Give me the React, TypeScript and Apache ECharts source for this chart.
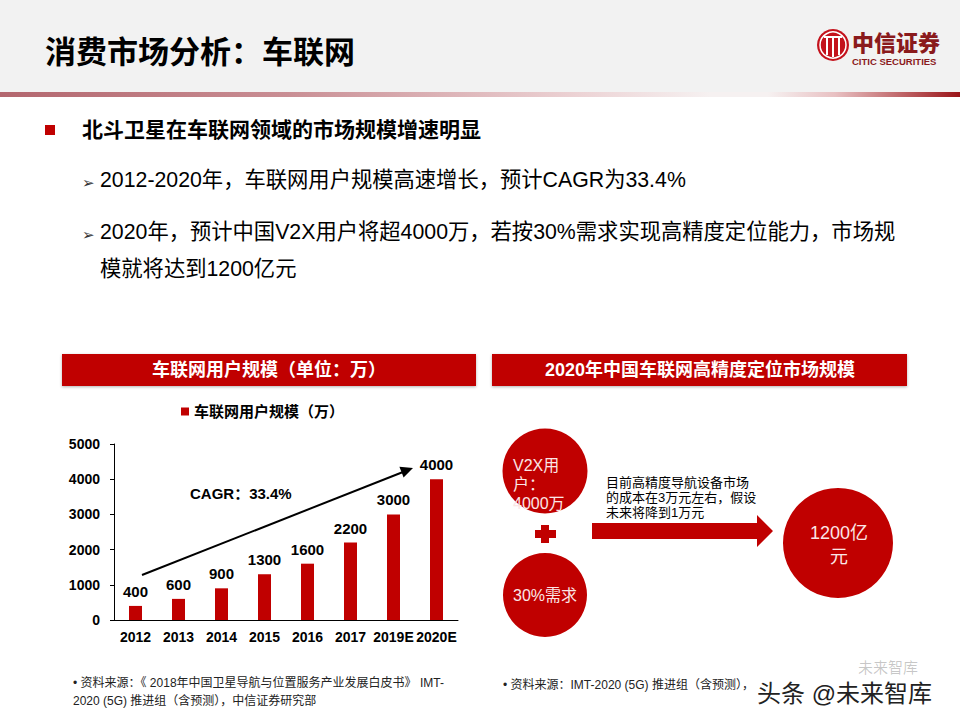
import React, { useEffect, useRef } from "react";
import * as echarts from "echarts";

const categories = ["2012", "2013", "2014", "2015", "2016", "2017", "2019E", "2020E"];
const userScale = [400, 600, 900, 1300, 1600, 2200, 3000, 4000];
const seriesName = "车联网用户规模（万）";
const yMin = 0;
const yMax = 5000;
const yInterval = 1000;

const title = "消费市场分析：车联网";
const bulletMain = "北斗卫星在车联网领域的市场规模增速明显";
const bulletSub1 = "2012-2020年，车联网用户规模高速增长，预计CAGR为33.4%";
const bulletSub2a = "2020年，预计中国V2X用户将超4000万，若按30%需求实现高精度定位能力，市场规";
const bulletSub2b = "模就将达到1200亿元";
const leftPanelTitle = "车联网用户规模（单位：万）";
const rightPanelTitle = "2020年中国车联网高精度定位市场规模";
const cagrText = "CAGR：33.4%";
const circle1Text = "V2X用\n户：\n4000万";
const circle2Text = "30%需求";
const circle3Text = "1200亿\n元";
const arrowNote = "目前高精度导航设备市场\n的成本在3万元左右，假设\n未来将降到1万元";
const sourceLeft1 = "• 资料来源：《 2018年中国卫星导航与位置服务产业发展白皮书》 IMT-";
const sourceLeft2 = "2020 (5G) 推进组（含预测），中信证券研究部";
const sourceRight = "• 资料来源：IMT-2020 (5G) 推进组（含预测），";

const RED = "#c00000";
const F = "'Liberation Sans', Arial, 'Noto Sans CJK SC', sans-serif";

function txt(text: string, x: number, y: number, size: number, opts: any = {}) {
  return {
    type: "text",
    z: opts.z ?? 10,
    style: {
      text,
      x,
      y,
      fontSize: size,
      fontFamily: F,
      fontWeight: opts.weight ?? "normal",
      fill: opts.fill ?? "#000",
      textAlign: opts.align ?? "left",
      align: opts.align ?? "left",
      textVerticalAlign: "middle",
      verticalAlign: "middle",
      lineHeight: opts.lineHeight,
      stroke: opts.stroke,
      lineWidth: opts.strokeWidth,
    },
  };
}

export default function App() {
  const ref = useRef<HTMLDivElement>(null);
  useEffect(() => {
    if (!ref.current) return;
    const chart = echarts.init(ref.current, null, { renderer: "svg" });
    const headerGrad = new echarts.graphic.LinearGradient(0, 0, 1, 0, [
      { offset: 0, color: "#b3666e" },
      { offset: 0.3, color: "#c98e94" },
      { offset: 0.6, color: "#ecd2d4" },
      { offset: 0.74, color: "#f6f1f1" },
      { offset: 0.8, color: "#f6f1f1" },
      { offset: 0.87, color: "#e8c0c2" },
      { offset: 1, color: "#9a1418" },
    ]);

    const graphic: any[] = [
      { type: "rect", z: 0, shape: { x: 0, y: 0, width: 960, height: 92 }, style: { fill: "#f2f2f2" } },
      { type: "rect", z: 1, shape: { x: 0, y: 92, width: 960, height: 5 }, style: { fill: headerGrad } },
      txt(title, 45, 52, 31, { weight: "bold" }),
      // logo
      { type: "circle", z: 5, shape: { cx: 833, cy: 45, r: 16 }, style: { fill: "#c4121c" } },
      { type: "circle", z: 6, shape: { cx: 833, cy: 45, r: 13 }, style: { fill: "none", stroke: "#fff", lineWidth: 1.5 } },
      { type: "line", z: 6, shape: { x1: 824, y1: 37, x2: 842, y2: 37 }, style: { stroke: "#fff", lineWidth: 2 } },
      { type: "line", z: 6, shape: { x1: 827, y1: 37, x2: 827, y2: 55 }, style: { stroke: "#fff", lineWidth: 2 } },
      { type: "line", z: 6, shape: { x1: 833, y1: 37, x2: 833, y2: 57 }, style: { stroke: "#fff", lineWidth: 2 } },
      { type: "line", z: 6, shape: { x1: 839, y1: 37, x2: 839, y2: 55 }, style: { stroke: "#fff", lineWidth: 2 } },
      txt("中信证券", 852, 43, 22, { weight: 900, fill: "#8a1a1c" }),
      txt("CITIC SECURITIES", 852, 61, 9.5, { weight: "bold", fill: "#8a1a1c" }),
      // bullets
      { type: "rect", z: 5, shape: { x: 45, y: 125, width: 10, height: 10 }, style: { fill: RED } },
      txt(bulletMain, 82, 129, 21, { weight: "bold" }),
      txt("➢", 82, 182, 15, { fill: "#333" }),
      txt(bulletSub1, 100, 180, 21.3),
      txt("➢", 82, 234, 15, { fill: "#333" }),
      txt(bulletSub2a, 100, 232, 21.3),
      txt(bulletSub2b, 100, 269, 21.3),
      // panel headers
      { type: "rect", z: 5, shape: { x: 62, y: 354, width: 414, height: 32 }, style: { fill: RED, shadowBlur: 3, shadowColor: "rgba(0,0,0,0.3)", shadowOffsetY: 1 } },
      txt(leftPanelTitle, 269, 370, 18, { weight: "bold", fill: "#fff", align: "center" }),
      { type: "rect", z: 5, shape: { x: 492, y: 354, width: 415, height: 32 }, style: { fill: RED, shadowBlur: 3, shadowColor: "rgba(0,0,0,0.3)", shadowOffsetY: 1 } },
      txt(rightPanelTitle, 700, 370, 18, { weight: "bold", fill: "#fff", align: "center" }),
      // CAGR arrow
      { type: "line", z: 10, shape: { x1: 142, y1: 575, x2: 403, y2: 472 }, style: { stroke: "#000", lineWidth: 2 } },
      { type: "polygon", z: 10, shape: { points: [[413, 468], [403.6, 477.6], [399.4, 466.8]] }, style: { fill: "#000" } },
      txt(cagrText, 190, 493, 15, { weight: "bold" }),
      // right panel diagram
      { type: "circle", z: 5, shape: { cx: 545, cy: 471, r: 42.5 }, style: { fill: RED } },
      txt(circle1Text, 513, 484, 16, { fill: "#fbe6e6", lineHeight: 19 }),
      { type: "rect", z: 5, shape: { x: 535, y: 530, width: 21, height: 8 }, style: { fill: RED } },
      { type: "rect", z: 5, shape: { x: 541, y: 525, width: 8, height: 18 }, style: { fill: RED } },
      { type: "circle", z: 5, shape: { cx: 545, cy: 595, r: 42 }, style: { fill: RED } },
      txt(circle2Text, 545, 595, 16, { fill: "#fbe6e6", align: "center" }),
      txt(arrowNote, 606, 497, 13, { lineHeight: 15 }),
      { type: "polygon", z: 5, shape: { points: [[592, 523], [757, 523], [757, 515], [773, 531], [757, 547], [757, 539], [592, 539]] }, style: { fill: RED } },
      { type: "circle", z: 5, shape: { cx: 838, cy: 543, r: 55 }, style: { fill: RED } },
      txt(circle3Text, 839, 545, 18, { fill: "#fbe6e6", align: "center", lineHeight: 24 }),
      // footer
      txt(sourceLeft1, 73, 683, 12, { fill: "#222" }),
      txt(sourceLeft2, 73, 701, 12, { fill: "#222" }),
      txt(sourceRight, 503, 685, 12, { fill: "#222" }),
      txt("未来智库", 858, 667, 15, { fill: "rgba(0,0,0,0.22)" }),
      txt("头条 @未来智库", 757, 693, 24, { fill: "#222", stroke: "#fff", strokeWidth: 1, z: 12 }),
    ];

    chart.setOption({
      animation: false,
      backgroundColor: "#fff",
      legend: {
        data: [seriesName],
        left: 181,
        top: 404,
        padding: 0,
        itemWidth: 8,
        itemHeight: 8,
        icon: "rect",
        itemGap: 5,
        textStyle: { fontSize: 15, fontWeight: "bold", color: "#000", fontFamily: F },
      },
      grid: { left: 114, right: 502, top: 444, bottom: 100, containLabel: false },
      xAxis: {
        type: "category",
        data: categories,
        axisLine: { show: true, lineStyle: { color: "#000", width: 1 } },
        axisTick: { show: false },
        axisLabel: { color: "#000", fontSize: 14, fontWeight: "bold", fontFamily: F, margin: 10, interval: 0 },
      },
      yAxis: {
        type: "value",
        min: yMin,
        max: yMax,
        interval: yInterval,
        splitLine: { show: false },
        axisLine: { show: true, lineStyle: { color: "#000", width: 1 } },
        axisTick: { show: true, length: 4, inside: false, lineStyle: { color: "#000" } },
        axisLabel: {
          color: "#000",
          fontSize: 14,
          fontWeight: "bold",
          fontFamily: F,
          margin: 14,
          formatter: (v: number) => String(v),
        },
      },
      series: [
        {
          name: seriesName,
          type: "bar",
          data: userScale,
          barWidth: 13,
          itemStyle: { color: RED },
          label: {
            show: true,
            position: "top",
            distance: 7,
            color: "#000",
            fontSize: 15,
            fontWeight: "bold",
            fontFamily: F,
          },
        },
      ],
      graphic,
    });
    return () => chart.dispose();
  }, []);
  return <div ref={ref} style={{ position: "fixed", left: 0, top: 0, width: 960, height: 720 }} />;
}
